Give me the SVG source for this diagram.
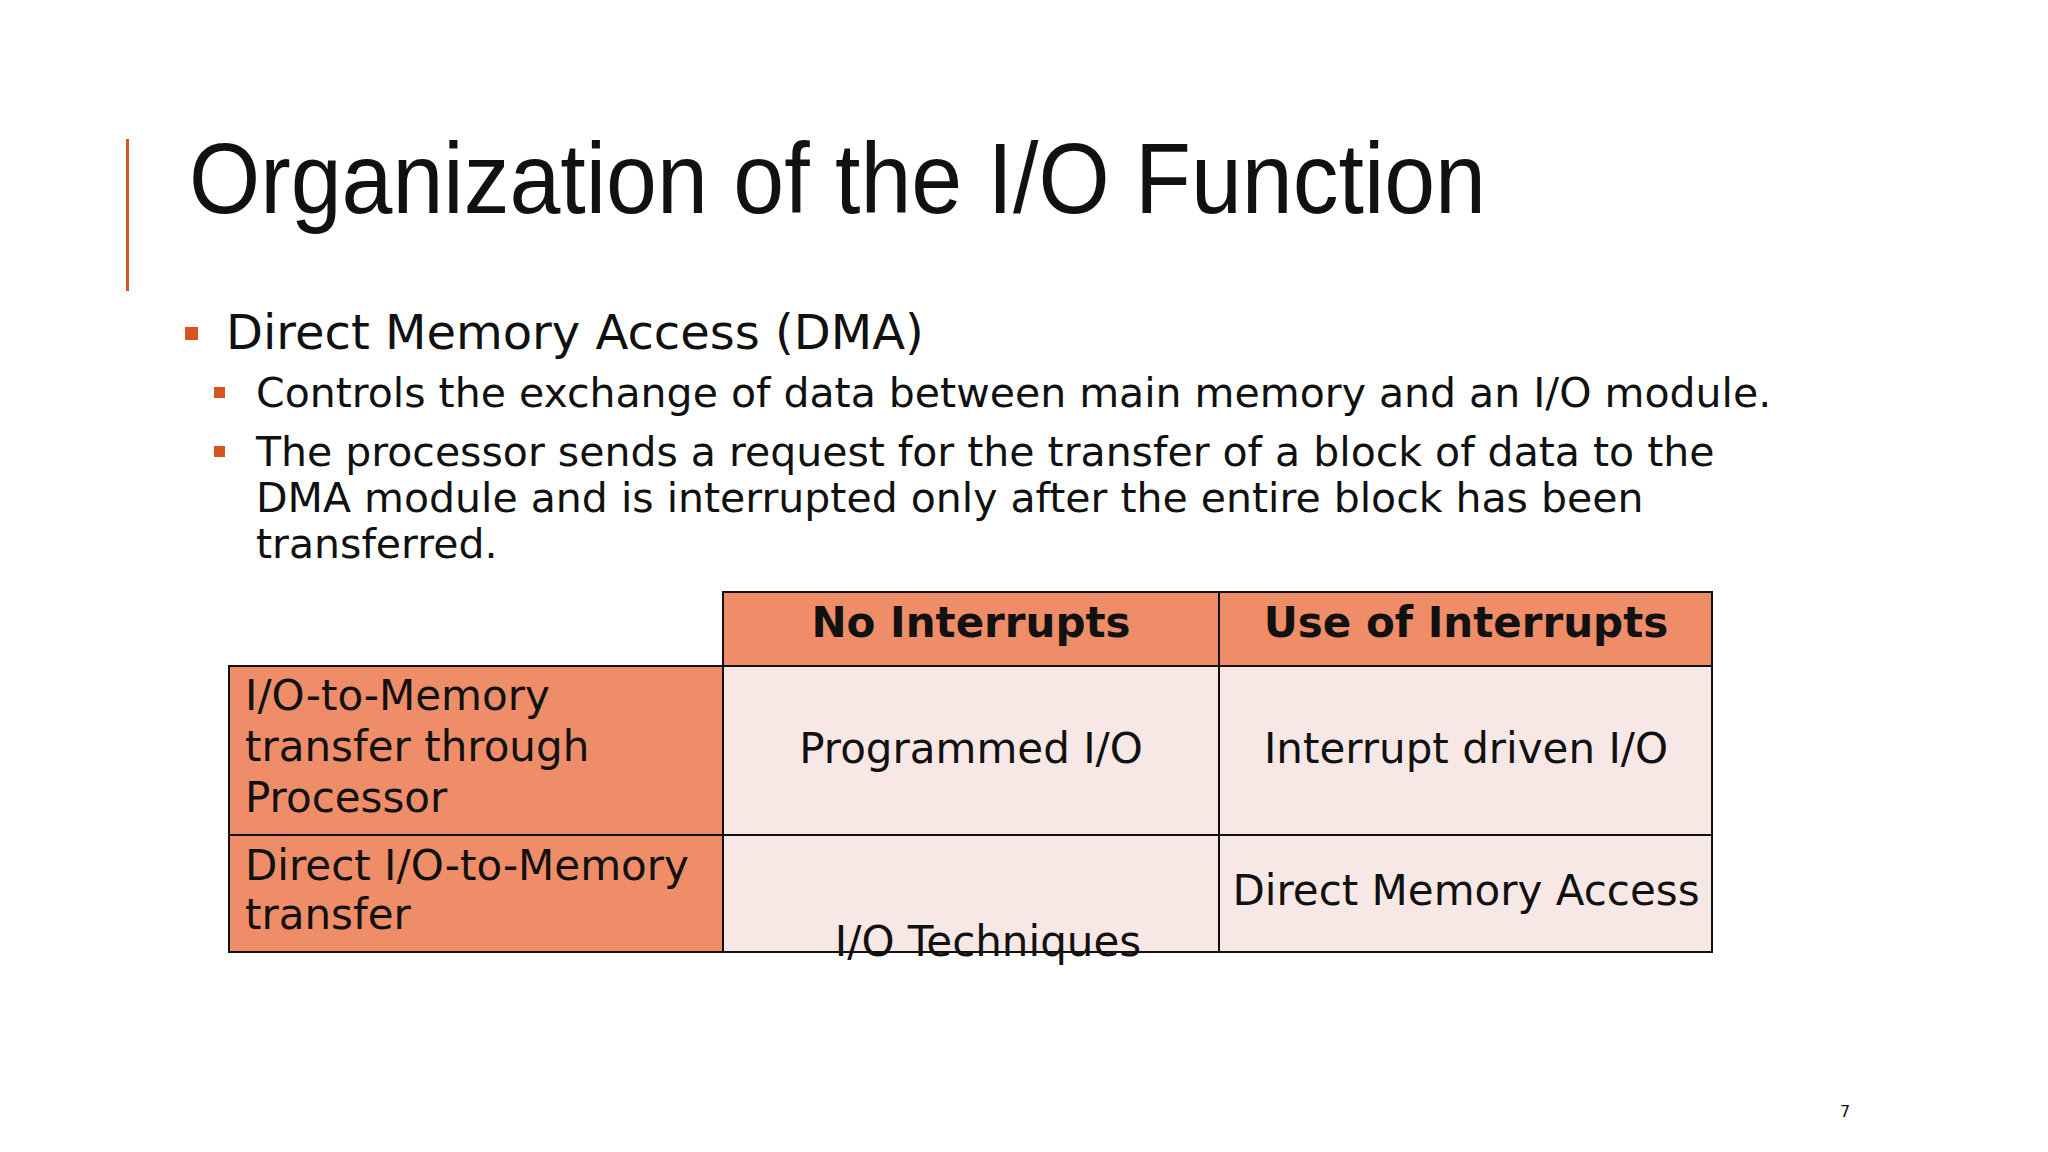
<svg xmlns="http://www.w3.org/2000/svg" width="2048" height="1152" viewBox="0 0 2048 1152">
<style>
.t{font-family:"DejaVu Sans","Noto Sans",sans-serif;fill:#111}
.b{fill:#D9531E}
.o{fill:#EE8D68;stroke:#111;stroke-width:2}
.l{fill:#F8E8E5;stroke:#111;stroke-width:2}
</style>
<rect width="2048" height="1152" fill="#fff"/>
<rect x="126" y="139" width="3" height="152" fill="#D9531E"/>
<text x="189" y="213" class="t" font-family="Liberation Sans" font-size="100" textLength="1297" lengthAdjust="spacingAndGlyphs" style="font-family:'Liberation Sans',sans-serif">Organization of the I/O Function</text>
<rect x="185" y="327" width="13" height="13" class="b"/>
<text x="226" y="349" class="t" font-size="48">Direct Memory Access (DMA)</text>
<rect x="214" y="387" width="11" height="11" class="b"/>
<rect x="214" y="446" width="11" height="11" class="b"/>
<g class="t" font-size="41">
<text x="256" y="407">Controls the exchange of data between main memory and an I/O module.</text>
<text x="256" y="466">The processor sends a request for the transfer of a block of data to the</text>
<text x="256" y="512">DMA module and is interrupted only after the entire block has been</text>
<text x="256" y="558">transferred.</text>
</g>
<g id="table">
<rect x="723" y="592" width="496" height="74" class="o"/>
<rect x="1219" y="592" width="493" height="74" class="o"/>
<rect x="229" y="666" width="494" height="169" class="o"/>
<rect x="229" y="835" width="494" height="117" class="o"/>
<rect x="723" y="666" width="496" height="169" class="l"/>
<rect x="1219" y="666" width="493" height="169" class="l"/>
<rect x="723" y="835" width="496" height="117" class="l"/>
<rect x="1219" y="835" width="493" height="117" class="l"/>
<g class="t" font-size="42" text-anchor="middle">
<text x="971" y="637" font-weight="bold">No Interrupts</text>
<text x="1466" y="637" font-weight="bold">Use of Interrupts</text>
<text x="971" y="763">Programmed I/O</text>
<text x="1466" y="763">Interrupt driven I/O</text>
<text x="1466" y="905">Direct Memory Access</text>
<text x="988" y="956">I/O Techniques</text>
</g>
<g class="t" font-size="42">
<text x="245" y="710">I/O-to-Memory</text>
<text x="245" y="761">transfer through</text>
<text x="245" y="812">Processor</text>
<text x="245" y="880">Direct I/O-to-Memory</text>
<text x="245" y="929">transfer</text>
</g>
</g>
<text x="1840" y="1117" class="t" font-size="16">7</text>
</svg>
